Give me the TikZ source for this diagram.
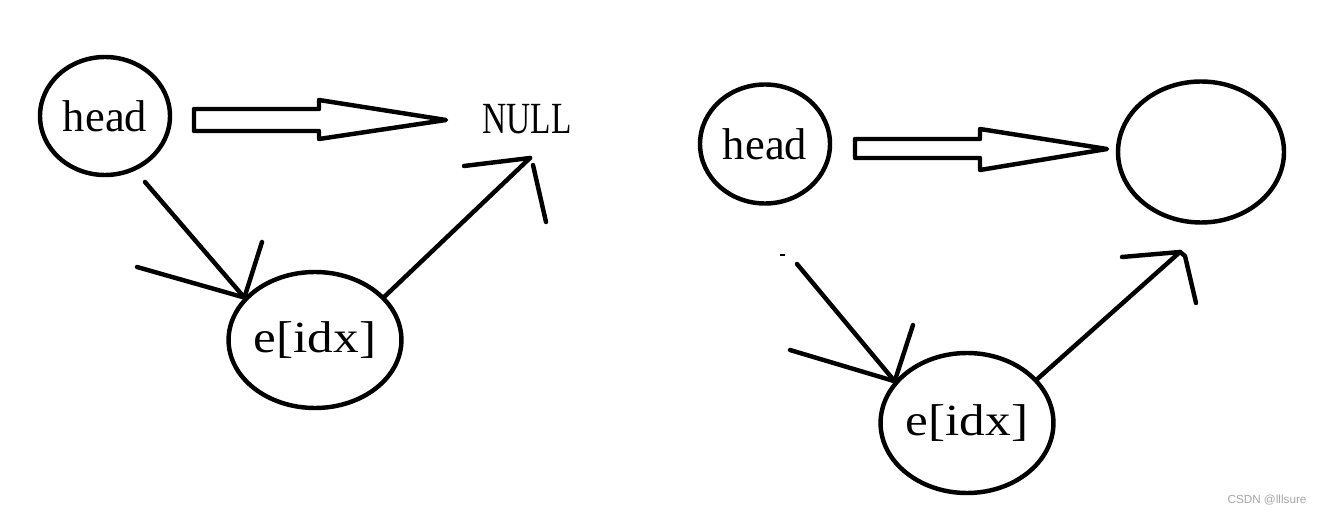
\documentclass[tikz,border=0pt]{standalone}
\usepackage{fontspec}
\setmainfont{Liberation Serif}
\setsansfont{Liberation Sans}
\usetikzlibrary{shapes.geometric,calc}

\begin{document}
\begin{tikzpicture}[
  x=0.03cm, y=-0.03cm,
  bubble/.style={draw, ellipse, line width=3.8pt, inner sep=0pt},
  txt/.style={font=\fontsize{38}{40}\selectfont},
  pen/.style={line width=3.8pt, line cap=round, line join=round},
  fat/.style={draw, fill=white, line width=3.8pt, line join=round},
  wmk/.style={font=\sffamily\fontsize{10}{12}\selectfont, text=gray!70},
]
\useasboundingbox (0,0) rectangle (1324,516);

% Left: empty list
\node[bubble, txt, minimum width=3.9cm, minimum height=3.54cm] (headL) at (105,116) {head};
\node[txt] (nullL) at (527,119) {\scalebox{.75}[1]{NULL}};
\node[bubble, txt, minimum width=4.98cm, minimum height=4.08cm] (eL) at (315,340) {\scalebox{1.15}[1]{e[idx]}};

% Right: list with one element
\node[bubble, txt, minimum width=3.9cm, minimum height=3.57cm] (headR) at (765,144) {head};
\node[bubble, minimum width=4.98cm, minimum height=4.23cm] (firstR) at (1201,152) {};
\node[bubble, txt, minimum width=5.04cm, minimum height=4.2cm] (eR) at (967,423) {\scalebox{1.15}[1]{e[idx]}};

% Hollow arrows head -> next
\coordinate (hsL) at (194,120);
\draw[fat] ($(hsL)+(0,-11)$) -- ++(125,0) -- ++(0,-9) -- ++(127,20)
  -- ++(-127,19) -- ++(0,-8) -- ++(-125,0) -- cycle;
\coordinate (hsR) at (855,148);
\draw[fat] ($(hsR)+(0,-9)$) -- ++(125,0) -- ++(0,-10) -- ++(127,20)
  -- ++(-127,21) -- ++(0,-12) -- ++(-125,0) -- cycle;

% Left: new element points to old first
\coordinate (aL0) at (145,182);
\coordinate (aL1) at (137,267);
\coordinate (aL2) at (262,242);
\draw[pen] (aL0) -- (eL.149);
\draw[pen] (aL1) -- (eL.149) -- (aL2);
\coordinate (tL) at (530,158);
\coordinate (tL1) at (464,166);
\coordinate (tL2) at (533,165);
\coordinate (tL3) at (546,222);
\draw[pen] (eL.32) -- (tL);
\draw[pen] (tL1) -- (tL);
\draw[pen] (tL2) -- (tL3);

% Right: same steps
\coordinate (dot) at (780,255);
\draw[line width=1.6pt] (dot) -- ++(5,0);
\coordinate (aR0) at (797,264);
\coordinate (aR1) at (790,350);
\coordinate (aR2) at (913,325);
\draw[pen] (aR0) -- (eR.150);
\draw[pen] (aR1) -- (eR.150) -- (aR2);
\coordinate (tR) at (1180,252);
\coordinate (tR1) at (1122,257);
\coordinate (tR2) at (1185,256);
\coordinate (tR3) at (1196,303);
\draw[pen] (eR.32) -- (tR);
\draw[pen] (tR1) -- (tR);
\draw[pen] (tR) -- (tR2) -- (tR3);

\node[wmk] (src) at (1267,500) {CSDN @lllsure};
\end{tikzpicture}
\end{document}
